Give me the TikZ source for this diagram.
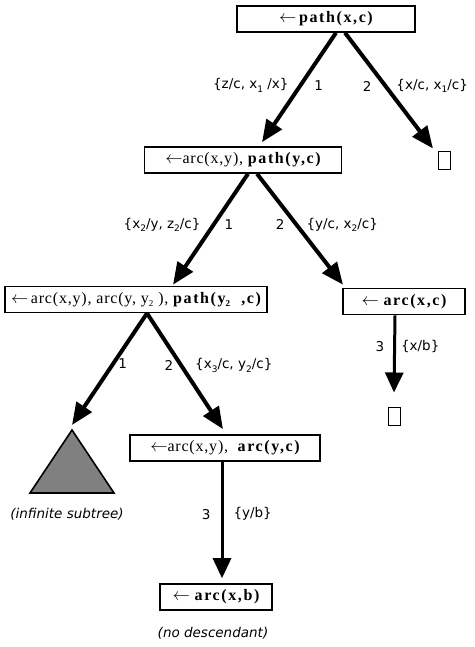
\documentclass[tikz,border=0pt]{standalone}
\usepackage{fontspec}
\setmainfont{Liberation Serif}
\setsansfont{DejaVu Sans}
\usetikzlibrary{arrows.meta,positioning}
\newcommand{\sub}[1]{\raisebox{-0.5ex}{\small #1}}
\newcommand{\bp}[1]{{\bfseries\addfontfeature{LetterSpace=10}#1}}
\tikzset{
  goal/.style={draw, line width=1.6pt, inner sep=0pt, minimum height=26pt,
               font=\fontsize{16}{18}\selectfont\addfontfeature{LetterSpace=5}},
  emptygoal/.style={draw, line width=1pt, minimum width=12pt, minimum height=18pt, inner sep=0pt},
  branch/.style={line width=4pt, -{Triangle[length=22pt,width=18pt]}},
  single/.style={line width=3pt, -{Triangle[length=20pt,width=18pt]}},
  lbl/.style={font=\sffamily\fontsize{13.5}{15}\selectfont, inner sep=0pt},
  note/.style={font=\sffamily\itshape\fontsize{13.5}{15}\selectfont, inner sep=0pt}
}
\begin{document}
\begin{tikzpicture}[x=1pt,y=-1pt]
  \useasboundingbox (0,0) rectangle (474,647);

  % Goals
  \node[goal, minimum width=178pt] (root) at (326,19) {$\leftarrow$\,\bp{path(x,c)}};
  \node[goal, minimum width=197pt] (b2) at (243,160) {$\leftarrow$arc(x,y), \bp{path(y,c)}};
  \node[emptygoal] (e1) at (444,161) {};
  \node[goal, minimum width=262pt] (b3) at (136,299.5)
    {$\leftarrow$\,arc(x,y), arc(y, y\sub{2} ), \bp{path(y\sub{2}\ \ ,c)}};
  \node[goal, minimum width=122pt] (axc) at (404,301.5) {$\leftarrow$ \bp{arc(x,c)}};
  \node[emptygoal] (e2) at (394,416) {};
  \node[goal, minimum width=190pt] (b4) at (225,448) {$\leftarrow$arc(x,y), \ \bp{arc(y,c)}};
  \node[goal, minimum width=112pt] (b5) at (216,597) {$\leftarrow$ \bp{arc(x,b)}};

  % Infinite subtree
  \coordinate (tri) at (72,430);
  \filldraw[fill=black!50, line width=1.6pt] (tri) -- ++(-42,63) -- ++(84,0) -- cycle;
  \node[note] (inf) at (67,514) {(infinite subtree)};
  \node[note] (nodesc) at (213,633) {(no descendant)};

  % Branches
  \draw[branch] ([xshift=10pt]root.south) --
    node[pos=.48, left=10pt, lbl] (s1) {\{z/c, x\sub{1} /x\}}
    node[pos=.48, right=12pt, lbl] (n1) {1}
    ([xshift=19pt,yshift=4pt]b2.north);
  \draw[branch] ([xshift=19pt]root.south) --
    node[pos=.46, left=12pt, lbl] (n2) {2}
    node[pos=.46, right=9pt, lbl] (s2) {\{x/c, x\sub{1}/c\}}
    ([xshift=-11pt,yshift=3pt]e1.north);
  \draw[branch] ([xshift=5pt]b2.south) --
    node[pos=.46, left=11pt, lbl] (s3) {\{x\sub{2}/y, z\sub{2}/c\}}
    node[pos=.46, right=9pt, lbl] (n3) {1}
    ([xshift=37pt,yshift=1pt]b3.north);
  \draw[branch] ([xshift=14pt]b2.south) --
    node[pos=.46, left=10pt, lbl] (n4) {2}
    node[pos=.46, right=8pt, lbl] (s4) {\{y/c, x\sub{2}/c\}}
    ([xshift=-61pt,yshift=3pt]axc.north);
  \draw[single] ([xshift=-9pt]axc.south) --
    node[pos=.41, left=9pt, lbl] (n5) {3}
    node[pos=.41, right=5pt, lbl] (s5) {\{x/b\}}
    ([yshift=14pt]e2.north);
  \draw[branch] ([xshift=11pt]b3.south) --
    node[pos=.45, right=3pt, lbl] (n6) {1}
    ([yshift=5pt]tri);
  \draw[branch] ([xshift=11pt]b3.south) --
    node[pos=.45, left=6pt, lbl] (n7) {2}
    node[pos=.45, right=12pt, lbl] (s7) {\{x\sub{3}/c, y\sub{2}/c\}}
    ([xshift=-2pt,yshift=5pt]b4.north);
  \draw[single] ([xshift=-3pt]b4.south) --
    node[pos=.45, left=10pt, lbl] (n8) {3}
    node[pos=.45, right=10pt, lbl] (s8) {\{y/b\}}
    ([xshift=6pt,yshift=5pt]b5.north);
\end{tikzpicture}
\end{document}
